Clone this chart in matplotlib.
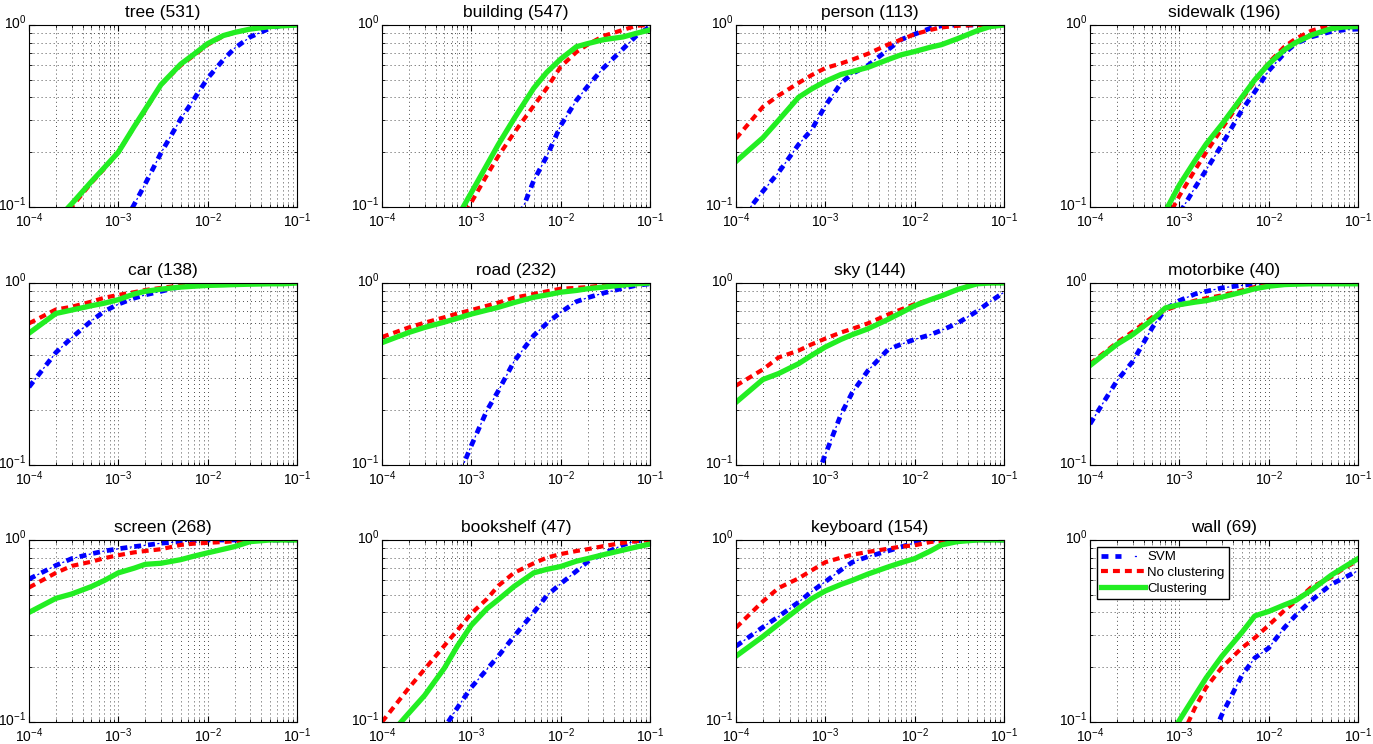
import numpy as np
import matplotlib
matplotlib.use('Agg')
import matplotlib.pyplot as plt
import matplotlib.transforms as mtransforms
from matplotlib.ticker import NullFormatter, LogLocator
from matplotlib.legend_handler import HandlerTuple

plt.rcParams['font.family'] = ['Liberation Sans', 'DejaVu Sans']
plt.rcParams['mathtext.default'] = 'regular'
plt.rcParams['lines.scale_dashes'] = False

# false positive rate grid shared by every curve
fpr = [1e-4, 2e-4, 3e-4, 5e-4, 7e-4, 1e-3, 1.5e-3, 2e-3, 3e-3, 5e-3,
       7e-3, 1e-2, 1.5e-2, 2e-2, 3e-2, 5e-2, 7e-2, 1e-1]

titles = ['tree (531)', 'building (547)', 'person (113)', 'sidewalk (196)',
          'car (138)', 'road (232)', 'sky (144)', 'motorbike (40)',
          'screen (268)', 'bookshelf (47)', 'keyboard (154)', 'wall (69)']

svm = [
    [0.01, 0.017, 0.025, 0.039, 0.052, 0.072, 0.103, 0.134, 0.198, 0.305, 0.39, 0.51, 0.645, 0.745, 0.86, 0.96, 1.0, 1.0],
    [0.003, 0.005, 0.007, 0.01, 0.014, 0.019, 0.031, 0.045, 0.074, 0.14, 0.19, 0.28, 0.385, 0.46, 0.58, 0.74, 0.87, 0.98],
    [0.079, 0.122, 0.155, 0.22, 0.265, 0.36, 0.48, 0.54, 0.60, 0.73, 0.83, 0.89, 0.96, 0.99, 1.0, 1.0, 1.0, 1.0],
    [0.013, 0.023, 0.033, 0.051, 0.068, 0.092, 0.128, 0.16, 0.22, 0.34, 0.43, 0.56, 0.70, 0.79, 0.86, 0.92, 0.94, 0.95],
    [0.268, 0.415, 0.50, 0.62, 0.70, 0.765, 0.825, 0.86, 0.90, 0.955, 0.985, 1.0, 1.0, 1.0, 1.0, 1.0, 1.0, 1.0],
    [0.008, 0.019, 0.030, 0.056, 0.084, 0.128, 0.20, 0.255, 0.37, 0.515, 0.60, 0.69, 0.79, 0.83, 0.88, 0.935, 0.97, 0.99],
    [0.0064, 0.0153, 0.025, 0.048, 0.073, 0.114, 0.19, 0.25, 0.33, 0.43, 0.46, 0.49, 0.52, 0.55, 0.60, 0.70, 0.79, 0.89],
    [0.168, 0.29, 0.37, 0.57, 0.72, 0.80, 0.87, 0.90, 0.94, 0.97, 0.99, 1.0, 1.0, 1.0, 1.0, 1.0, 1.0, 1.0],
    [0.61, 0.725, 0.79, 0.84, 0.87, 0.895, 0.92, 0.935, 0.96, 0.98, 0.99, 1.0, 1.0, 1.0, 1.0, 1.0, 1.0, 1.0],
    [0.029, 0.048, 0.064, 0.093, 0.12, 0.155, 0.195, 0.23, 0.295, 0.40, 0.495, 0.575, 0.675, 0.76, 0.84, 0.94, 0.99, 1.0],
    [0.261, 0.332, 0.38, 0.455, 0.52, 0.59, 0.685, 0.755, 0.81, 0.87, 0.915, 0.965, 1.0, 1.0, 1.0, 1.0, 1.0, 1.0],
    [0.0027, 0.0057, 0.009, 0.0155, 0.022, 0.033, 0.051, 0.07, 0.11, 0.18, 0.225, 0.255, 0.33, 0.385, 0.465, 0.57, 0.62, 0.678],
]

no_clust = [
    [0.055, 0.08, 0.1, 0.136, 0.163, 0.2, 0.275, 0.34, 0.47, 0.6, 0.68, 0.78, 0.87, 0.91, 0.95, 0.98, 0.995, 1.0],
    [0.015, 0.027, 0.038, 0.059, 0.078, 0.106, 0.15, 0.19, 0.255, 0.36, 0.45, 0.59, 0.71, 0.78, 0.87, 0.94, 0.99, 1.0],
    [0.238, 0.355, 0.41, 0.48, 0.53, 0.58, 0.615, 0.645, 0.695, 0.78, 0.83, 0.89, 0.94, 0.97, 0.99, 1.0, 1.0, 1.0],
    [0.013, 0.025, 0.037, 0.06, 0.083, 0.115, 0.16, 0.2, 0.27, 0.39, 0.49, 0.62, 0.76, 0.84, 0.93, 1.0, 1.0, 1.0],
    [0.60, 0.715, 0.74, 0.79, 0.83, 0.86, 0.89, 0.915, 0.94, 0.97, 0.99, 1.0, 1.0, 1.0, 1.0, 1.0, 1.0, 1.0],
    [0.505, 0.57, 0.605, 0.648, 0.68, 0.71, 0.75, 0.78, 0.83, 0.87, 0.90, 0.93, 0.94, 0.95, 0.97, 1.0, 1.0, 1.0],
    [0.273, 0.335, 0.39, 0.425, 0.46, 0.495, 0.535, 0.56, 0.60, 0.67, 0.715, 0.765, 0.81, 0.85, 0.92, 1.0, 1.0, 1.0],
    [0.36, 0.47, 0.54, 0.65, 0.71, 0.755, 0.80, 0.825, 0.855, 0.91, 0.95, 0.98, 1.0, 1.0, 1.0, 1.0, 1.0, 1.0],
    [0.548, 0.66, 0.72, 0.76, 0.795, 0.825, 0.855, 0.87, 0.89, 0.94, 0.955, 0.965, 0.975, 0.985, 1.0, 1.0, 1.0, 1.0],
    [0.10, 0.154, 0.195, 0.263, 0.32, 0.395, 0.475, 0.56, 0.66, 0.745, 0.80, 0.837, 0.87, 0.89, 0.925, 0.965, 0.985, 1.0],
    [0.33, 0.46, 0.545, 0.615, 0.68, 0.755, 0.80, 0.83, 0.86, 0.895, 0.92, 0.935, 0.975, 0.99, 1.0, 1.0, 1.0, 1.0],
    [0.0063, 0.013, 0.021, 0.037, 0.053, 0.078, 0.12, 0.155, 0.20, 0.255, 0.29, 0.34, 0.41, 0.46, 0.55, 0.625, 0.70, 0.77],
]

clust = [
    [0.058, 0.084, 0.104, 0.138, 0.165, 0.20, 0.276, 0.344, 0.47, 0.61, 0.69, 0.79, 0.875, 0.91, 0.95, 0.98, 0.99, 1.0],
    [0.016, 0.029, 0.042, 0.066, 0.088, 0.12, 0.171, 0.22, 0.305, 0.45, 0.55, 0.65, 0.76, 0.79, 0.83, 0.86, 0.9, 0.94],
    [0.178, 0.24, 0.30, 0.40, 0.445, 0.49, 0.535, 0.555, 0.585, 0.645, 0.685, 0.715, 0.755, 0.78, 0.84, 0.93, 0.98, 1.0],
    [0.016, 0.03, 0.043, 0.069, 0.095, 0.132, 0.18, 0.222, 0.285, 0.40, 0.50, 0.61, 0.73, 0.80, 0.88, 0.955, 0.975, 0.98],
    [0.53, 0.68, 0.71, 0.75, 0.775, 0.81, 0.87, 0.9, 0.925, 0.95, 0.96, 0.97, 0.975, 0.98, 0.985, 0.99, 0.99, 1.0],
    [0.47, 0.535, 0.57, 0.61, 0.64, 0.675, 0.71, 0.735, 0.78, 0.835, 0.86, 0.89, 0.91, 0.93, 0.95, 0.975, 0.99, 1.0],
    [0.221, 0.295, 0.318, 0.36, 0.40, 0.445, 0.49, 0.52, 0.56, 0.63, 0.685, 0.75, 0.81, 0.85, 0.92, 0.99, 1.0, 1.0],
    [0.352, 0.46, 0.52, 0.63, 0.73, 0.76, 0.785, 0.80, 0.837, 0.89, 0.93, 0.96, 0.98, 0.985, 0.99, 0.99, 0.99, 0.99],
    [0.40, 0.478, 0.505, 0.555, 0.60, 0.66, 0.70, 0.735, 0.745, 0.78, 0.815, 0.85, 0.89, 0.92, 0.98, 1.0, 1.0, 1.0],
    [0.076, 0.112, 0.14, 0.198, 0.262, 0.34, 0.42, 0.47, 0.555, 0.66, 0.69, 0.715, 0.765, 0.79, 0.83, 0.88, 0.915, 0.95],
    [0.23, 0.295, 0.345, 0.42, 0.475, 0.525, 0.57, 0.60, 0.65, 0.71, 0.75, 0.79, 0.87, 0.94, 0.98, 1.0, 1.0, 1.0],
    [0.015, 0.027, 0.038, 0.058, 0.076, 0.102, 0.14, 0.175, 0.23, 0.31, 0.383, 0.405, 0.44, 0.465, 0.53, 0.64, 0.71, 0.79],
]

W, H = 1373, 744
fig = plt.figure(figsize=(W / 100, H / 100), dpi=100)

col_left = [29, 382, 736, 1090]
row_top = [25, 283, 540]
ax_w, ax_h = 268, 182

BLUE, RED, GREEN = '#0000ff', '#ff0000', '#22ee22'
lift = mtransforms.ScaledTranslation(0, 2.5 / 72, fig.dpi_scale_trans)

for i, title in enumerate(titles):
    r, c = divmod(i, 4)
    ax = fig.add_axes([col_left[c] / W, 1 - (row_top[r] + ax_h) / H, ax_w / W, ax_h / H])
    ax.set_xscale('log')
    ax.set_yscale('log')

    # matlab style thick dash-dot: fat dashes with a thin dot between them
    b1, = ax.plot(fpr, svm[i], color=BLUE, lw=3.4, linestyle=(0, (5.0, 5.0)))
    b2, = ax.plot(fpr, svm[i], color=BLUE, lw=0.9, linestyle=(3.25, (1.5, 8.5)))
    rl, = ax.plot(fpr, no_clust[i], color=RED, lw=3.0, linestyle=(0, (5.0, 3.6)))
    gl, = ax.plot(fpr, clust[i], color=GREEN, lw=3.8)

    ax.set_xlim(1e-4, 1e-1)
    ax.set_ylim(1e-1, 1e0)
    ax.xaxis.set_minor_locator(LogLocator(base=10, subs=np.arange(2, 10)))
    ax.yaxis.set_minor_locator(LogLocator(base=10, subs=np.arange(2, 10)))
    ax.xaxis.set_minor_formatter(NullFormatter())
    ax.yaxis.set_minor_formatter(NullFormatter())
    ax.grid(True, which='both', linestyle=(0, (0.7, 2.2)), color='0.2', lw=0.6)
    ax.tick_params(which='both', direction='in', top=True, right=True, labelsize=10)
    ax.tick_params(axis='x', which='major', length=4, pad=3)
    ax.tick_params(axis='y', which='major', length=4, pad=2)
    ax.tick_params(which='minor', length=2)
    ax.set_title(title, fontsize=12.5, pad=6)
    for sp in ax.spines.values():
        sp.set_linewidth(0.8)

    # y labels sit a touch above their tick, like the original
    ax.set_yticks([1e-1, 1e0])
    for lab in ax.get_yticklabels():
        lab.set_transform(lab.get_transform() + lift)

    if i == len(titles) - 1:
        ax.legend([(b1, b2), rl, gl], ['SVM', 'No clustering', 'Clustering'],
                  handler_map={tuple: HandlerTuple(ndivide=None)},
                  loc='upper left', fontsize=9.5, fancybox=False, edgecolor='black',
                  framealpha=1, handlelength=3.3, borderpad=0.35, labelspacing=0.25,
                  handletextpad=0.2, borderaxespad=0.5)

fig.savefig('out.png', dpi=100)
